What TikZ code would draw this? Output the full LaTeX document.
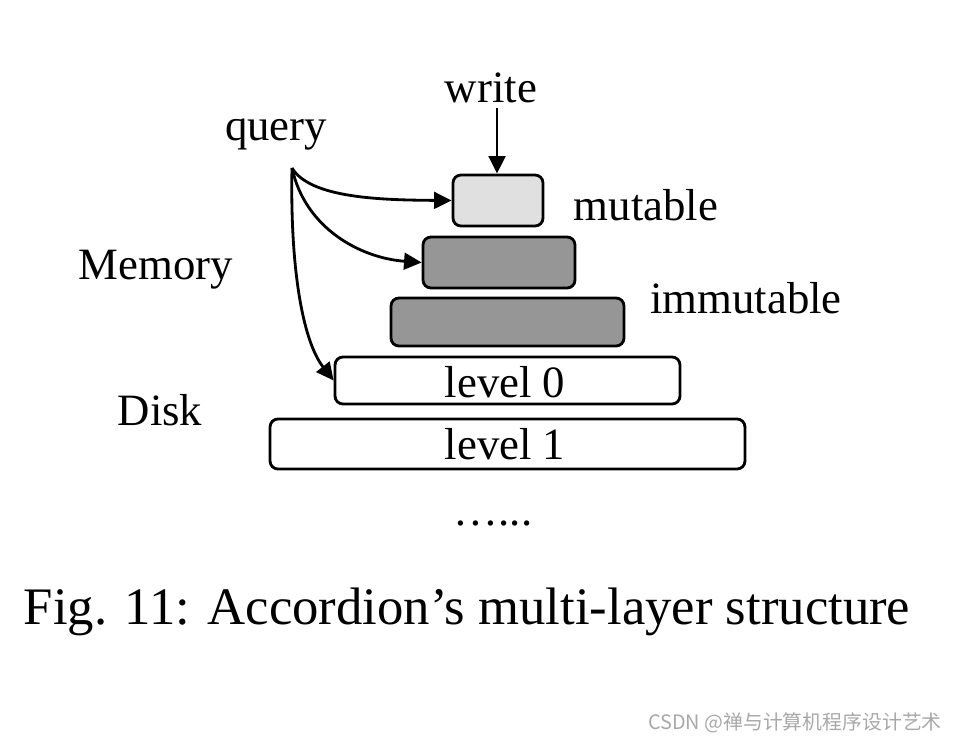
\documentclass[tikz,border=0pt]{standalone}
\usepackage{fontspec}
\setmainfont{Liberation Serif}
\newfontfamily\cjk{Noto Sans CJK SC}
\usetikzlibrary{arrows.meta}
\definecolor{lightfill}{HTML}{E0E0E0}
\definecolor{darkfill}{HTML}{969696}
\definecolor{wmgray}{HTML}{A8A8A8}
\tikzset{
  box/.style={draw=black, line width=1.6pt, rounded corners=4.5pt, inner sep=0pt, anchor=center},
  lbl/.style={inner sep=0pt, font=\fontsize{25.5}{30}\selectfont},
  arr/.style={line width=1.6pt, -{Triangle[length=10pt,width=9.5pt]}},
}
\begin{document}
\begin{tikzpicture}[x=0.02cm,y=-0.02cm]
\useasboundingbox (0,0) rectangle (956,744);
% boxes
\node[box, fill=lightfill, minimum width=1.80cm, minimum height=1.02cm] (mut) at (498,200.5) {};
\node[box, fill=darkfill, minimum width=3.04cm, minimum height=1.02cm] (imm1) at (499,262.5) {};
\node[box, fill=darkfill, minimum width=4.66cm, minimum height=0.96cm] (imm2) at (507.5,322) {};
\node[box, fill=white, minimum width=6.90cm, minimum height=0.94cm] (lv0) at (507.5,380.5) {};
\node[box, fill=white, minimum width=9.50cm, minimum height=1.00cm] (lv1) at (507.5,444) {};
\node[lbl] (lv0t) at (505,382) {level 0};
\node[lbl] (lv1t) at (505,444) {level 1};
% labels
\node[lbl] (write) at (491,88) {write};
\node[lbl] (query) at (276,135) {query};
\node[lbl] (mem) at (156,270) {Memory};
\node[lbl] (disk) at (160,410) {Disk};
\node[lbl] (mutl) at (646,205) {mutable};
\node[lbl] (imml) at (746,298) {immutable};
\node[lbl] (dots) at (493,523) {…...};
\node[inner sep=0pt, font=\fontsize{30}{36}\selectfont] (cap) at (467,612) {Fig. 11: Accordion’s multi-layer structure};
\node[inner sep=0pt, text=wmgray, font=\cjk\fontsize{11.3}{13}\selectfont] (wm) at (795,723) {CSDN @禅与计算机程序设计艺术};
% arrows
\coordinate (qs) at (292,168);
\coordinate (ws) at (497,108);
\draw[arr] (ws) -- (mut.north -| ws);
\draw[arr] (qs) .. controls (310,198) and (380,200) .. (mut.west);
\draw[arr] (qs) .. controls (305,228) and (360,258) .. (imm1.west);
\draw[arr] (qs) .. controls (290,265) and (302,340) .. (lv0.west);
\end{tikzpicture}
\end{document}
